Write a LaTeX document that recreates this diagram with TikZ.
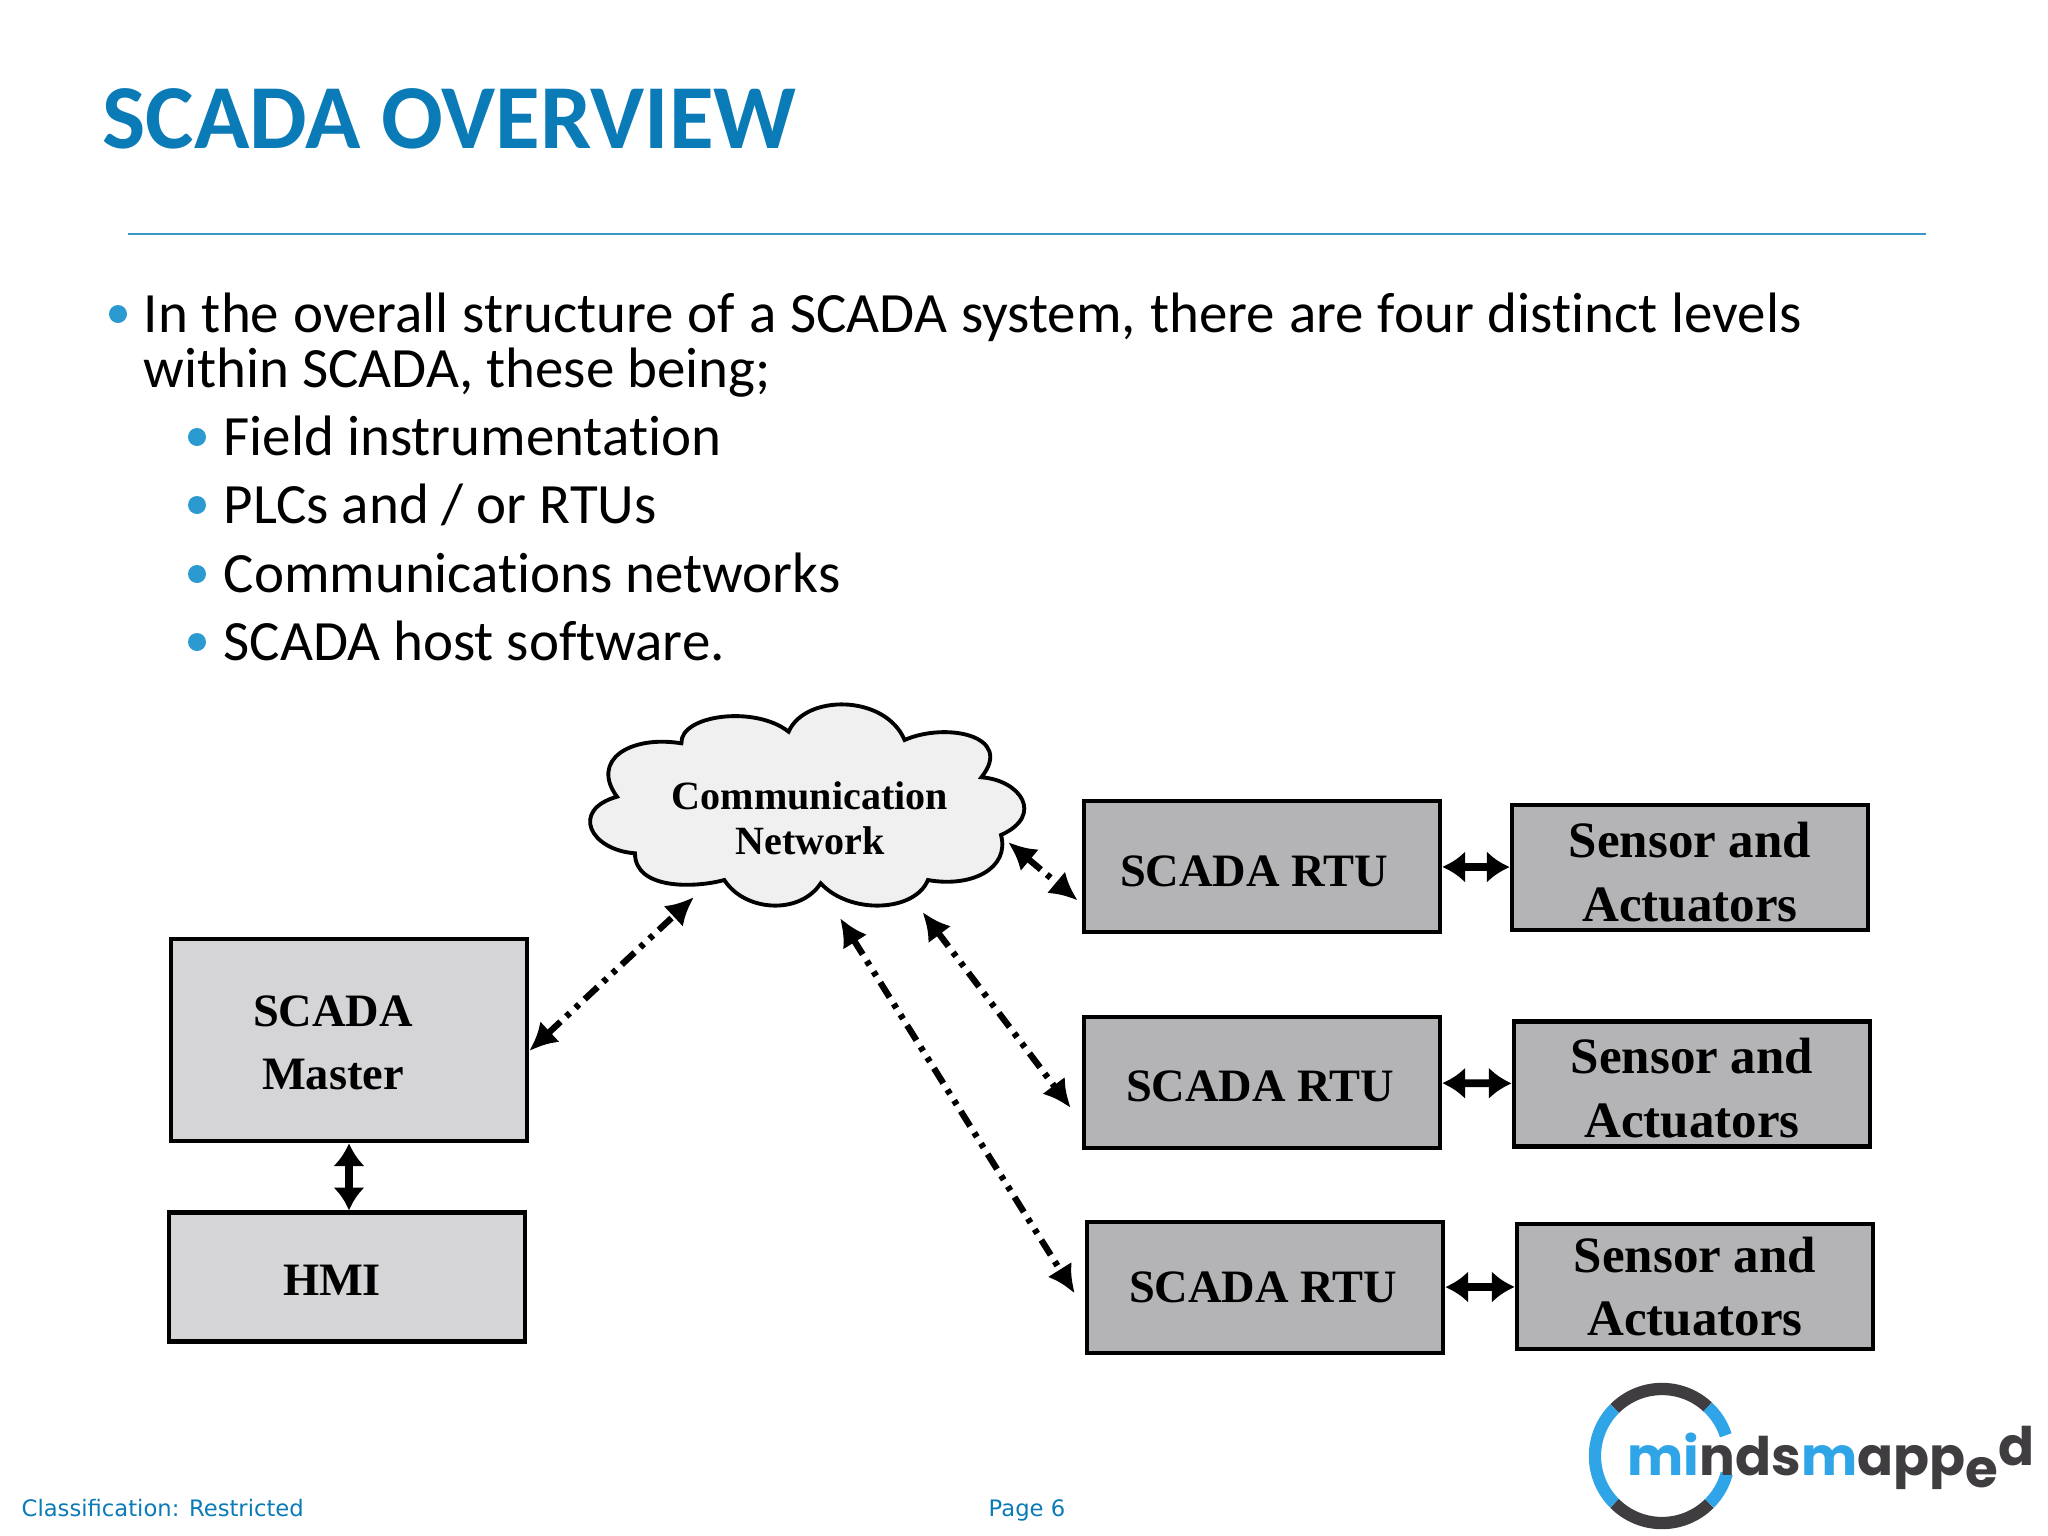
\documentclass[tikz,border=0pt]{standalone}
\usepackage{fontspec}
\usetikzlibrary{arrows.meta}
\setmainfont[Ligatures=NoCommon]{Carlito}
\newfontfamily\boxfont{Liberation Serif}
\newfontfamily\footfont{DejaVu Sans}
\newfontfamily\logofont{Poppins}
\definecolor{titleblue}{HTML}{0A7BB6}
\definecolor{bulletblue}{HTML}{2A9AD0}
\definecolor{logoblue}{HTML}{2FA4E7}
\definecolor{logodark}{HTML}{3F3D40}
\definecolor{lightfill}{HTML}{D5D4D7}
\definecolor{darkfill}{HTML}{B4B3B6}
\newcommand{\down}[2]{\raisebox{-#1}[\height][\depth]{#2}}
\tikzset{
  lightbox/.style={draw=black,line width=1.2pt,fill=lightfill,inner sep=0pt,align=center,
    font=\boxfont\bfseries\fontsize{13.2}{18}\selectfont},
  darkbox/.style={lightbox,fill=darkfill},
  sensorbox/.style={darkbox,font=\boxfont\bfseries\fontsize{14.5}{18}\selectfont},
  bodytext/.style={anchor=base west,inner sep=0pt,font=\fontsize{16.2}{19}\selectfont},
  foottext/.style={anchor=base west,inner sep=0pt,text=titleblue,font=\footfont\fontsize{6.45}{8}\selectfont},
  netlink/.style={{Latex[length=8pt,width=8pt]}-{Latex[length=8pt,width=8pt]},line width=1.8pt,
    dash pattern=on 5pt off 2.2pt on 1.4pt off 2.2pt on 1.4pt off 2.2pt},
  boxlink/.style={{Latex[length=6.5pt,width=9pt]}-{Latex[length=6.5pt,width=9pt]},line width=2.2pt},
  logoring/.style={line width=3.5pt}
}
\begin{document}
\begin{tikzpicture}[x=0.01cm,y=-0.01cm]
\useasboundingbox (0,0) rectangle (2048,1536);

% Title and rule
\node[anchor=base west,inner sep=0pt,text=titleblue,font=\bfseries\fontsize{26}{30}\selectfont] (slidetitle) at (102,148) {SCADA OVERVIEW};
\draw[titleblue!80,line width=0.3pt] (128,234) -- (1926,234);

% Bullets
\fill[bulletblue] (118,314) circle (9);
\node[bodytext] (linea) at (143,332) {\makebox[16.57cm][s]{In the overall structure of a SCADA system, there are four distinct levels}};
\node[bodytext] (lineb) at (143,387) {within SCADA, these being;};
\foreach \n/\ypos/\txt in {1/455/Field instrumentation,2/523/{PLCs and / or RTUs},3/592/Communications networks,4/660/SCADA host software.} {
  \fill[bulletblue] (197,\ypos-18) circle (9);
  \node[bodytext] (item\n) at (223,\ypos) {\txt};
}

% Cloud
\draw[line width=1.1pt,fill=black!6] (788.6,731.7)
  .. controls (805,694) and (885,694) .. (904.6,740)
  .. controls (945,722) and (1015,735) .. (981.4,777.3)
  .. controls (1020,780) and (1045,815) .. (1001,835)
  .. controls (1010,868) and (972,888) .. (927.9,880)
  .. controls (915,912) and (850,915) .. (820.7,883.3)
  .. controls (800,915) and (745,912) .. (724.3,880)
  .. controls (695,888) and (635,890) .. (635,853.3)
  .. controls (590,850) and (570,810) .. (617,796.7)
  .. controls (590,760) and (630,735) .. (681.4,743.3)
  .. controls (680,715) and (755,705) .. (788.6,731.7) -- cycle;
\node[align=center,inner sep=0pt,font=\boxfont\bfseries\fontsize{11.4}{12.7}\selectfont] (network) at (810,818) {Communication\\Network};
\coordinate (netmaster) at (694,897);
\coordinate (netrtua) at (1008,842);
\coordinate (netrtub) at (922.5,912);
\coordinate (netrtuc) at (840,918);

% Left boxes
\node[lightbox,minimum width=3.56cm,minimum height=2.02cm] (master) at (349,1040) {\hspace*{-0.32cm}\down{0.03cm}{SCADA}\\\hspace*{-0.32cm}\down{0.03cm}{Master}};
\node[lightbox,minimum width=3.56cm,minimum height=1.29cm] (hmi) at (347,1277) {\hspace*{-0.3cm}\down{0.03cm}{HMI}};

% Right boxes
\foreach \n/\xa/\ya/\xb/\yb/\tdx/\tdy in {1/1262/866.5/1690/867.5/-0.16cm/0.045cm,2/1262/1082.5/1692/1084/-0.04cm/0.04cm,3/1265/1287.5/1695/1286.5/-0.04cm/0cm} {
  \node[darkbox,minimum width=3.56cm,minimum height=1.31cm] (rtu\n) at (\xa,\ya) {\hspace*{\tdx}\down{\tdy}{SCADA RTU}};
  \node[sensorbox,minimum width=3.56cm,minimum height=1.25cm] (sensor\n) at (\xb,\yb) {\down{\tdy}{Sensor and}\\\down{\tdy}{Actuators}};
  \draw[boxlink] (rtu\n) -- (sensor\n);
}

% Links
\draw[boxlink] (master.south) -- (master.south |- hmi.north);
\draw[netlink] ([yshift=-0.11cm]master.east) -- (netmaster);
\draw[netlink] (netrtua) -- ([shift={(-0.04cm,-0.34cm)}]rtu1.west);
\draw[netlink] (netrtub) -- ([shift={(-0.11cm,-0.255cm)}]rtu2.west);
\draw[netlink] (netrtuc) -- ([shift={(-0.1cm,-0.06cm)}]rtu3.west);

% Footer
\node[foottext] (classif) at (21,1516) {Classification: Restricted};
\node[foottext] (pagenum) at (988,1516) {Page 6};

% Logo
\coordinate (logoc) at (1662,1456);
\draw[logoring,logodark] (logoc) ++(47:0.67cm) arc[start angle=47,end angle=135,radius=0.67cm];
\draw[logoring,logoblue] (logoc) ++(135:0.67cm) arc[start angle=135,end angle=225,radius=0.67cm];
\draw[logoring,logodark] (logoc) ++(225:0.67cm) arc[start angle=225,end angle=315,radius=0.67cm];
\draw[logoring,logoblue] (logoc) ++(315:0.67cm) arc[start angle=315,end angle=345,radius=0.67cm];
\draw[logoring,logoblue] (logoc) ++(18:0.67cm) arc[start angle=18,end angle=47,radius=0.67cm];
\node[anchor=base west,inner sep=0pt,text=logodark,font=\logofont\bfseries\fontsize{15.1}{18}\selectfont] (logotext) at (1627,1475)
  {\textcolor{logoblue}{mi}nds\textcolor{logoblue}{m}app\raisebox{-0.12cm}{e}\raisebox{0.1cm}{d}};
\end{tikzpicture}
\end{document}
